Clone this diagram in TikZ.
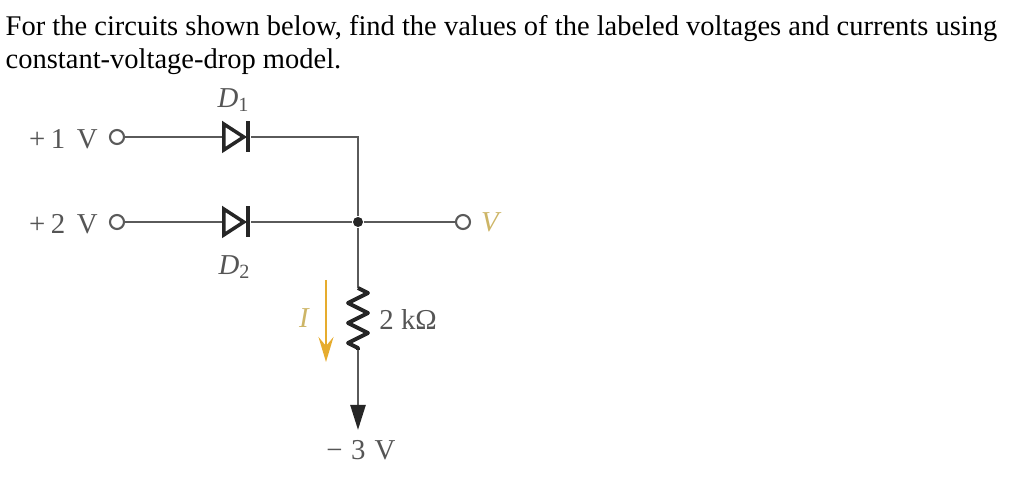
\documentclass[tikz,border=0pt]{standalone}
\usepackage{fontspec}
\setmainfont{Liberation Serif}
\usetikzlibrary{arrows.meta,shapes.geometric,decorations.pathmorphing}
\definecolor{textgray}{HTML}{555555}
\definecolor{wiregray}{HTML}{5A5A5A}
\definecolor{voltyellow}{HTML}{CDB566}
\definecolor{curorange}{HTML}{E6AC2E}
\begin{document}
\begin{tikzpicture}[
        wire/.style={wiregray, line width=0.7pt},
        terminal/.style={circle, draw=wiregray, line width=0.6pt, fill=white, minimum size=0.14cm, inner sep=0pt},
        diode/.style={isosceles triangle, isosceles triangle stretches, draw=black!85, line width=1pt,
            minimum width=0.26cm, minimum height=0.2cm, inner sep=0pt, anchor=lower side},
        diodebar/.style={fill=black!85, minimum width=0.04cm, minimum height=0.31cm, inner sep=0pt},
        label/.style={textgray, font=\fontsize{8.2}{10}\selectfont},
        varlabel/.style={textgray, font=\fontsize{8.2}{10}\selectfont\itshape},
        supply/.style={wiregray, line width=0.7pt, -{Triangle[length=0.25cm, width=0.15cm, black!85]}},
        current/.style={curorange, line width=0.5pt, -{Stealth[length=0.25cm, width=0.15cm, inset=0.09cm]}}
    ]
        \useasboundingbox (0,0) rectangle (10.24,4.86);

        % Enunciado
        \node[anchor=north west, align=left, inner sep=0pt, font=\fontsize{8.11}{9.4}\selectfont] (title) at (0.05,4.71)
            {For the circuits shown below, find the values of the labeled voltages and currents using\\constant-voltage-drop model.};

        % Terminales
        \node[terminal] (in1) at (1.17,3.49) {};
        \node[label, anchor=east] (in1lab) at (1.10,3.47) {+\kern1.6pt1\kern1.2pt\ V};
        \node[terminal] (in2) at (1.17,2.64) {};
        \node[label, anchor=east] (in2lab) at (1.10,2.62) {+\kern1.6pt2\kern1.2pt\ V};
        \node[terminal] (out) at (4.63,2.64) {};
        \node[varlabel, text=voltyellow] (outlab) at (4.90,2.64) {V};

        % Diodos
        \node[diode] (D1) at (2.22,3.49) {};
        \node[diodebar] (bar1) at (D1.apex) {};
        \node[label] (D1lab) at (2.34,3.86) {\textit{D}\textsubscript{1}};
        \node[diode] (D2) at (2.22,2.64) {};
        \node[diodebar] (bar2) at (D2.apex) {};
        \node[label] (D2lab) at (2.35,2.19) {\textit{D}\textsubscript{2}};

        % Puntos de union
        \coordinate (corner) at (3.58,3.49);
        \node[circle, fill=black!85, minimum size=0.1cm, inner sep=0pt] (junc) at (3.58,2.64) {};
        \coordinate (rtop) at (3.58,1.98);
        \coordinate (rbot) at (3.58,1.36);
        \coordinate (vneg) at (3.58,0.56);

        % Cables
        \draw[wire] (in1) -- (D1.lower side);
        \draw[wire] (bar1) -- (corner) -- (junc);
        \draw[wire] (in2) -- (D2.lower side);
        \draw[wire] (bar2) -- (junc);
        \draw[wire] (junc) -- (out);
        \draw[wire] (junc) -- (rtop);

        % Resistencia
        \draw[black!85, line width=1.1pt, line join=round, decorate, decoration={zigzag, segment length=0.2cm, amplitude=0.1cm}] (rtop) -- (rbot);
        \node[label, anchor=west] (rlab) at (3.67,1.66) {2 kΩ};

        % Salida a -3 V
        \draw[supply] (rbot) -- (vneg);
        \node[label] (vneglab) at (3.61,0.36) {−\kern1pt\,3\kern.6pt\ V};

        % Corriente
        \coordinate (itop) at (3.26,2.06);
        \coordinate (ibot) at (3.26,1.24);
        \draw[current] (itop) -- (ibot);
        \node[varlabel, text=voltyellow] (ilab) at (3.04,1.68) {I};
    \end{tikzpicture}
\end{document}
